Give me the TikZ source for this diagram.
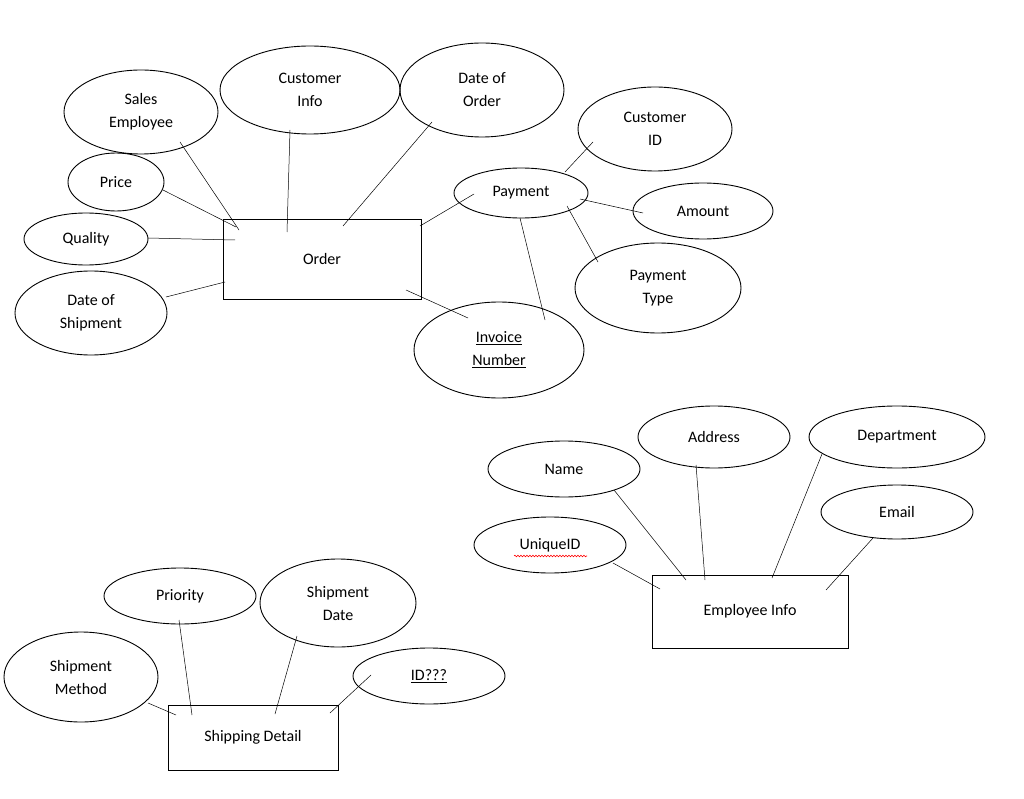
\documentclass[tikz,border=0pt]{standalone}
\usepackage{fontspec}
\setmainfont{Carlito}
\usetikzlibrary{shapes.geometric,decorations.pathmorphing}
\begin{document}
\begin{tikzpicture}[x=1pt,y=-1pt,
  e/.style={draw,ellipse,line width=0.9pt,inner sep=0pt,align=center,font=\fontsize{16}{23}\selectfont},
  r/.style={draw,rectangle,line width=1pt,inner sep=0pt,font=\fontsize{16}{23}\selectfont},
  c/.style={line width=0.5pt}]
\useasboundingbox (0,0) rectangle (1024,799);
\newcommand{\el}[6]{\node[e,minimum width=#4*2pt,minimum height=#5*2pt] (#1) at (#2,#3) {#6};}
\el{sales}{141}{112}{77}{42}{Sales\\Employee}
\el{cinfo}{310}{90}{90}{44}{Customer\\Info}
\el{dorder}{482}{90}{82}{47}{Date of\\Order}
\el{cid}{655}{129}{77}{42}{Customer\\ID}
\el{price}{116}{182}{48}{29}{Price}
\el{pay}{521}{193}{67}{25}{Payment}
\el{amount}{703}{211}{70}{28}{Amount}
\el{quality}{86}{239}{62}{26}{Quality}
\el{ptype}{658}{288}{83}{45}{Payment\\Type}
\el{dship}{91}{313}{76}{42}{Date of\\Shipment}
\el{inv}{499}{350}{85}{48}{\underline{Invoice}\\\underline{Number}}
\el{addr}{714}{437}{76}{31}{Address}
\el{dept}{897}{437}{88}{31}{Department}
\el{name}{564}{469}{76}{28}{Name}
\el{email}{897}{512}{76}{27}{Email}
\el{uid}{550}{545}{76}{28}{UniqueID}
\el{prio}{180}{596}{76}{28}{Priority}
\el{sdate}{338}{603}{78}{44}{Shipment\\Date}
\el{smeth}{81}{677}{77}{45}{Shipment\\Method}
\el{idq}{429}{676}{76}{28}{\underline{ID???}}
\node[r,minimum width=198pt,minimum height=79pt] (order) at (322,259.5) {Order};
\node[r,minimum width=196pt,minimum height=73pt] (emp) at (750,611.5) {Employee Info};
\node[r,minimum width=170pt,minimum height=65pt] (shipd) at (253,737.5) {Shipping Detail};
\draw[red,line width=0.6pt,decorate,decoration={snake,amplitude=0.8pt,segment length=3pt}] (514,556) -- (587,556);
\newcommand{\lnk}[6]{\draw[c] ([shift={(#2,#3)}]#1.center) -- ([shift={(#5,#6)}]#4.center);}
\lnk{sales}{39}{30}{order}{-83}{-29.5}
\lnk{cinfo}{-20}{40}{order}{-35}{-27.5}
\lnk{dorder}{-50}{32}{order}{21}{-33.5}
\lnk{price}{47}{8}{order}{-86}{-32.5}
\lnk{quality}{62}{-1}{order}{-87}{-19.5}
\lnk{dship}{75}{-16}{order}{-97}{22.5}
\lnk{order}{98}{-33.5}{pay}{-47}{1}
\lnk{order}{84}{30.5}{inv}{-31}{-32}
\lnk{pay}{44}{-21}{cid}{-62}{13}
\lnk{pay}{59}{6}{amount}{-60}{2}
\lnk{pay}{46}{13}{ptype}{-60}{-26}
\lnk{pay}{-1}{25}{inv}{46}{-30}
\lnk{name}{50}{21}{emp}{-64}{-31.5}
\lnk{addr}{-18}{28}{emp}{-45}{-31.5}
\lnk{dept}{-75}{17}{emp}{22}{-33.5}
\lnk{email}{-24}{26}{emp}{76}{-21.5}
\lnk{uid}{63}{18}{emp}{-90}{-22.5}
\lnk{prio}{-1}{24}{shipd}{-61}{-22.5}
\lnk{sdate}{-41}{33}{shipd}{22}{-23.5}
\lnk{smeth}{67}{26}{shipd}{-77}{-22.5}
\lnk{idq}{-58}{-1}{shipd}{77}{-24.5}
\end{tikzpicture}
\end{document}
